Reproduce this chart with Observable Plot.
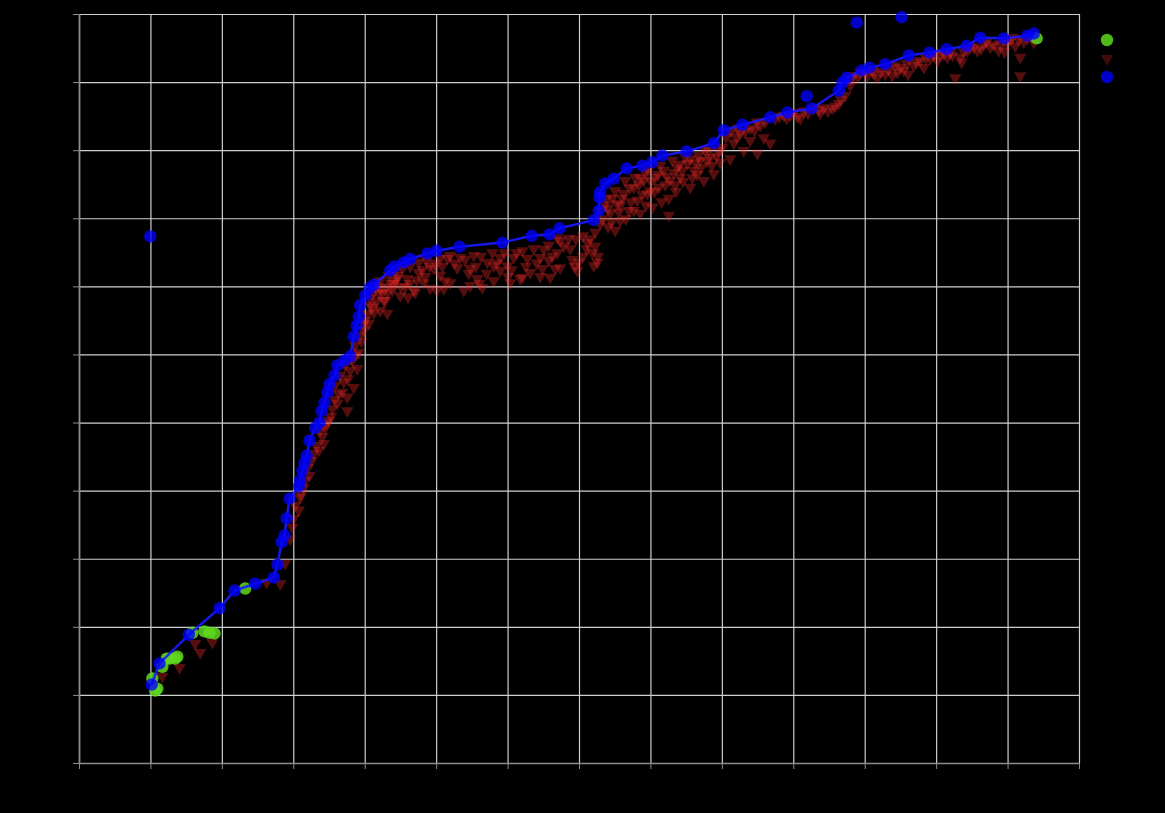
<!DOCTYPE html>
<html><head><meta charset="utf-8">
<script src="https://cdn.jsdelivr.net/npm/d3@7"></script>
<script src="https://cdn.jsdelivr.net/npm/@observablehq/plot@0.6"></script>
<style>
html,body{margin:0;padding:0;background:#000;}
#wrap{position:relative;width:1165px;height:813px;background:#000;}
#legend{position:absolute;left:1090px;top:26px;}
</style>
</head><body><div id="wrap"></div>
<script>
// Tick positions (labels are black on black in the reference)
const xTicks = [0,1,2,3,4,5,6,7,8,9,10,11,12,13,14];
const yTicks = [0,1,2,3,4,5,6,7,8,9,10,11];

// Frontier (blue, connected by line)
const frontier = [
[1.01,1.16],[1.12,1.47],[1.53,1.89],[1.96,2.28],[2.17,2.54],[2.46,2.64],[2.72,2.73],[2.77,2.92],
[2.83,3.25],[2.87,3.35],[2.90,3.60],[2.94,3.89],[3.07,4.07],[3.09,4.16],[3.12,4.30],[3.15,4.42],
[3.18,4.52],[3.22,4.74],[3.30,4.93],[3.36,5.01],[3.39,5.18],[3.43,5.30],[3.47,5.45],[3.50,5.57],
[3.57,5.70],[3.61,5.85],[3.71,5.92],[3.79,5.98],[3.84,6.27],[3.88,6.43],[3.91,6.56],[3.93,6.73],
[4.00,6.87],[4.06,6.98],[4.12,7.03],[4.35,7.24],[4.41,7.30],[4.54,7.36],[4.63,7.41],[4.87,7.49],
[5.00,7.53],[5.32,7.59],[5.92,7.65],[6.33,7.75],[6.58,7.77],[6.72,7.86],[7.20,7.98],[7.27,8.12],
[7.28,8.31],[7.29,8.39],[7.36,8.52],[7.48,8.59],[7.66,8.74],[7.88,8.78],[8.02,8.83],[8.16,8.93],
[8.50,8.99],[8.88,9.11],[9.02,9.30],[9.28,9.38],[9.67,9.49],[9.91,9.56],[10.25,9.62],[10.63,9.88],
[10.68,10.00],[10.74,10.07],[10.95,10.18],[11.06,10.22],[11.28,10.27],[11.61,10.40],[11.90,10.44],
[12.14,10.49],[12.42,10.54],[12.61,10.66],[12.94,10.65],[13.27,10.69],[13.36,10.72]
];

// Blue points off the frontier line
const blueExtra = [[0.99,7.74],[10.18,9.80],[10.88,10.88],[11.51,10.96]];

// Green points
const green = [
[1.02,1.25],[1.09,1.10],[1.06,1.07],[1.16,1.42],[1.22,1.54],[1.26,1.54],[1.34,1.54],[1.37,1.57],
[1.58,1.92],[1.75,1.94],[1.82,1.92],[1.89,1.91],[2.32,2.57],[13.40,10.65]
];

// Red triangles
const red = [
[1.16,1.28],[1.40,1.41],[1.62,1.76],[1.69,1.63],[1.86,1.78],[2.62,2.66],[2.81,2.64],[2.88,2.94],
[2.98,3.47],[3.07,3.72],[3.09,3.91],[3.22,4.23],[3.35,4.60],[3.42,4.70],[3.44,4.93],[3.54,5.21],
[3.61,5.29],[3.75,5.18],[3.75,5.38],[3.68,5.45],[3.84,5.52],[3.79,5.77],[3.89,5.80],[3.82,5.92],
[3.91,6.04],[3.98,6.36],[4.05,6.46],[4.12,6.62],[4.21,6.65],[4.26,6.80],[4.19,6.90],[4.31,6.61],
[3.58,5.55],[3.65,5.70],[3.72,5.85],[3.86,6.14],[3.93,6.29],[4.00,6.51],[4.07,6.73],[3.32,4.67],
[3.37,4.89],[3.49,5.04],[3.16,4.16],[3.02,3.79],
[3.10,3.95],[3.14,4.05],[3.20,4.35],[3.25,4.45],[3.28,4.55],[3.40,4.80],[3.46,5.00],[3.52,5.10],
[3.57,5.35],[3.63,5.42],[3.70,5.60],[3.76,5.65],[3.80,5.95],[3.87,6.00],[3.95,6.20],[3.98,6.45],
[4.03,6.60],[4.10,6.70],[4.16,6.78],[4.24,6.92],[4.30,7.00],[4.36,7.05],[4.45,7.12],[3.00,3.60],[2.95,3.30],
[4.12,6.92],[4.21,6.99],[4.31,6.90],[4.40,7.05],[4.49,6.87],[4.45,7.17],[4.59,7.12],[4.68,6.95],
[4.75,7.21],[4.82,7.06],[4.91,6.98],[4.96,7.27],[5.05,7.17],[5.15,7.42],[5.19,7.06],[5.29,7.28],
[5.33,7.43],[5.38,6.95],[5.47,7.27],[5.52,7.46],[5.57,7.12],[5.64,6.99],[5.71,7.36],[5.78,7.50],
[5.80,7.31],[5.80,7.09],[5.89,7.43],[5.99,7.31],[6.08,7.43],[6.20,7.53],[6.20,7.14],[6.27,7.42],
[6.36,7.56],[6.45,7.43],[6.48,7.27],[6.57,7.61],[6.57,7.39],[6.59,7.14],[6.69,7.50],[6.73,7.28],
[6.85,7.71],[6.87,7.56],[6.97,7.24],[6.99,7.36],[6.73,7.68],[7.11,7.65],[7.18,7.50],[7.22,7.80],
[7.25,7.36],[6.69,7.72],[6.17,7.12],[6.66,7.27],[7.20,7.31],[7.10,7.56],[4.70,6.92],[5.00,6.95],
[5.47,7.02],[4.56,7.00],[5.12,7.09],[4.42,7.09],[4.84,7.15],[5.89,7.24],[6.31,7.21],[6.03,7.06],
[4.21,7.09],[4.33,7.17],[4.42,7.24],[4.52,7.27],[4.63,7.30],[4.75,7.36],[4.86,7.39],[5.05,7.42],
[5.19,7.46],[4.14,7.02],[4.07,6.83],[4.28,6.80],
[4.38,6.95],[4.50,7.00],[4.62,7.05],[4.72,7.10],[4.80,7.25],[4.90,7.30],[4.98,7.35],[5.08,7.30],
[5.25,7.35],[5.40,7.40],[5.45,7.20],[5.55,7.30],[5.62,7.45],[5.70,7.20],[5.85,7.35],[5.95,7.50],
[6.05,7.25],[6.12,7.50],[6.25,7.30],[6.40,7.35],[6.50,7.55],[6.62,7.45],[6.78,7.60],[6.90,7.40],
[7.05,7.45],[7.15,7.70],[7.22,7.60],[7.26,7.45],[7.05,7.75],[6.95,7.70],[4.60,6.85],[5.10,6.97],
[5.60,7.05],[6.00,7.15],[6.45,7.15],[6.93,7.30],
[7.29,7.93],[7.43,8.08],[7.53,8.22],[7.57,7.97],[7.62,8.37],[7.69,8.12],[7.76,8.46],[7.81,8.27],
[7.85,8.08],[7.90,8.56],[7.95,8.37],[8.02,8.17],[8.06,8.61],[8.11,8.46],[8.18,8.71],[8.25,8.30],
[8.27,8.56],[8.37,8.75],[8.41,8.61],[8.51,8.81],[8.55,8.46],[8.60,8.71],[8.69,8.86],[8.74,8.56],
[8.83,8.90],[8.88,8.66],[8.95,9.00],[8.97,8.83],[9.11,8.88],[9.16,9.11],[9.25,9.25],[9.30,9.00],
[9.39,9.15],[9.49,8.96],[9.58,9.19],[9.67,9.11],[8.25,8.05],[7.76,8.12],[9.39,9.33],[9.53,9.37],
[9.74,9.47],[9.95,9.52],[7.38,8.30],[7.50,8.41],[7.92,8.68],[8.55,8.88],[8.76,9.00],[8.34,8.50],
[7.50,7.83],[7.36,8.20],[7.46,8.30],[7.64,8.56],[7.78,8.61],[7.96,8.71],[8.13,8.78],[8.30,8.86],
[8.48,8.91],[8.67,8.93],[8.81,9.00],[7.57,8.20],[7.99,8.41],[8.44,8.71],[7.29,8.12],
[7.32,8.00],[7.40,8.15],[7.45,7.95],[7.55,8.10],[7.60,8.30],[7.70,8.45],[7.72,8.25],[7.83,8.50],
[7.88,8.35],[7.93,8.20],[8.00,8.55],[8.05,8.40],[8.10,8.65],[8.20,8.50],[8.22,8.62],[8.32,8.68],
[8.40,8.80],[8.45,8.55],[8.58,8.60],[8.62,8.82],[8.70,8.75],[8.78,8.85],[8.85,8.78],[8.92,8.92],
[9.00,9.05],[9.05,9.20],[9.12,9.28],[9.20,9.20],[9.22,9.33],[9.32,9.28],[9.45,9.30],[9.48,9.42],
[9.60,9.42],[9.80,9.50],[7.65,8.00],[7.85,8.60],[8.15,8.25],[8.35,8.40],[8.65,8.65],[7.40,7.88],
[9.86,9.52],[10.00,9.56],[10.14,9.58],[10.28,9.62],[10.42,9.63],[10.54,9.62],[10.63,9.69],
[10.84,10.10],[10.93,10.15],[11.03,10.10],[11.12,10.13],[11.17,10.07],[11.28,10.12],[11.38,10.10],
[11.49,10.22],[11.54,10.18],[11.68,10.25],[11.82,10.22],[11.91,10.35],[12.01,10.32],[12.05,10.40],
[12.15,10.37],[12.26,10.07],[12.33,10.37],[12.43,10.47],[12.57,10.47],[12.66,10.57],[12.75,10.52],
[12.87,10.47],[12.94,10.62],[13.03,10.62],[13.10,10.54],[13.17,10.37],[13.17,10.10],[13.27,10.65],
[13.36,10.59],[10.72,9.81],[10.79,9.96],[10.09,9.47],[10.37,9.55],[10.79,10.06],[11.42,10.25],
[11.77,10.32],[12.19,10.44],[12.47,10.52],[12.89,10.57],
[9.90,9.48],[10.05,9.50],[10.20,9.55],[10.35,9.60],[10.48,9.58],[10.58,9.65],[10.66,9.75],[10.90,10.08],
[11.00,10.15],[11.10,10.18],[11.22,10.16],[11.33,10.20],[11.45,10.15],[11.58,10.28],[11.72,10.30],
[11.85,10.36],[11.96,10.40],[12.10,10.42],[12.22,10.40],[12.38,10.45],[12.52,10.52],[12.62,10.50],
[12.70,10.60],[12.80,10.55],[12.98,10.58],[13.06,10.66],[13.15,10.63],[13.22,10.60],[13.32,10.68],
[12.35,10.30],[11.60,10.12],[12.95,10.45]
];

const triangleDown = {
  draw(context, size) {
    const s3 = Math.sqrt(3);
    const y = -Math.sqrt(size / (3 * s3));
    context.moveTo(0, -y * 2);
    context.lineTo(-s3 * y, y);
    context.lineTo(s3 * y, y);
    context.closePath();
  }
};

const RED = "#ff2a2a", GREEN = "#5fd81f", BLUE = "#0000ff";
const RT = 4.6, RC = 6.2, RED_OP = 0.33;

const chart = Plot.plot({
  width: 1165, height: 813,
  marginLeft: 79, marginRight: 86, marginTop: 14, marginBottom: 50,
  style: {background: "#000", color: "#000", fontFamily: "DejaVu Sans", fontSize: "10px"},
  x: {domain: [0, 14]},
  y: {domain: [0, 11]},
  marks: [
    Plot.gridX(xTicks, {stroke: "#cfcfcf", strokeOpacity: 1, strokeWidth: 1.2}),
    Plot.gridY(yTicks, {stroke: "#cfcfcf", strokeOpacity: 1, strokeWidth: 1.2}),
    Plot.ruleX([0], {stroke: "#8c8c8c", strokeWidth: 1.6}),
    Plot.ruleY([0], {stroke: "#8c8c8c", strokeWidth: 1.6}),
    Plot.axisX(xTicks, {tickSize: 6, stroke: "#8c8c8c", fill: "#000", label: null}),
    Plot.axisY(yTicks, {tickSize: 6, stroke: "#8c8c8c", fill: "#000", label: null}),
    Plot.dot(red, {x: d => d[0], y: d => d[1], symbol: triangleDown, r: RT, fill: RED, fillOpacity: RED_OP, stroke: "none"}),
    Plot.dot(green, {x: d => d[0], y: d => d[1], r: RC, fill: GREEN, fillOpacity: 0.85, stroke: "none"}),
    Plot.line(frontier, {x: d => d[0], y: d => d[1], stroke: "#1a1aff", strokeWidth: 2.5, strokeOpacity: 0.9}),
    Plot.dot(frontier.concat(blueExtra), {x: d => d[0], y: d => d[1], r: RC, fill: BLUE, fillOpacity: 0.78, stroke: "none"})
  ]
});
document.getElementById("wrap").appendChild(chart);

// Legend markers (labels not visible in the reference)
const leg = d3.select("#wrap").append("svg").attr("id", "legend").attr("width", 40).attr("height", 70);
const items = [{sym: d3.symbolCircle, fill: GREEN, op: 0.85, r: RC}, {sym: triangleDown, fill: RED, op: 0.25, r: RT}, {sym: d3.symbolCircle, fill: BLUE, op: 0.8, r: RC}];
items.forEach((it, i) => {
  leg.append("path").attr("d", d3.symbol(it.sym, Math.PI * it.r * it.r)()).attr("transform", `translate(17,${14 + i * 18.5})`)
    .attr("fill", it.fill).attr("fill-opacity", it.op);
});
</script>
</body></html>
